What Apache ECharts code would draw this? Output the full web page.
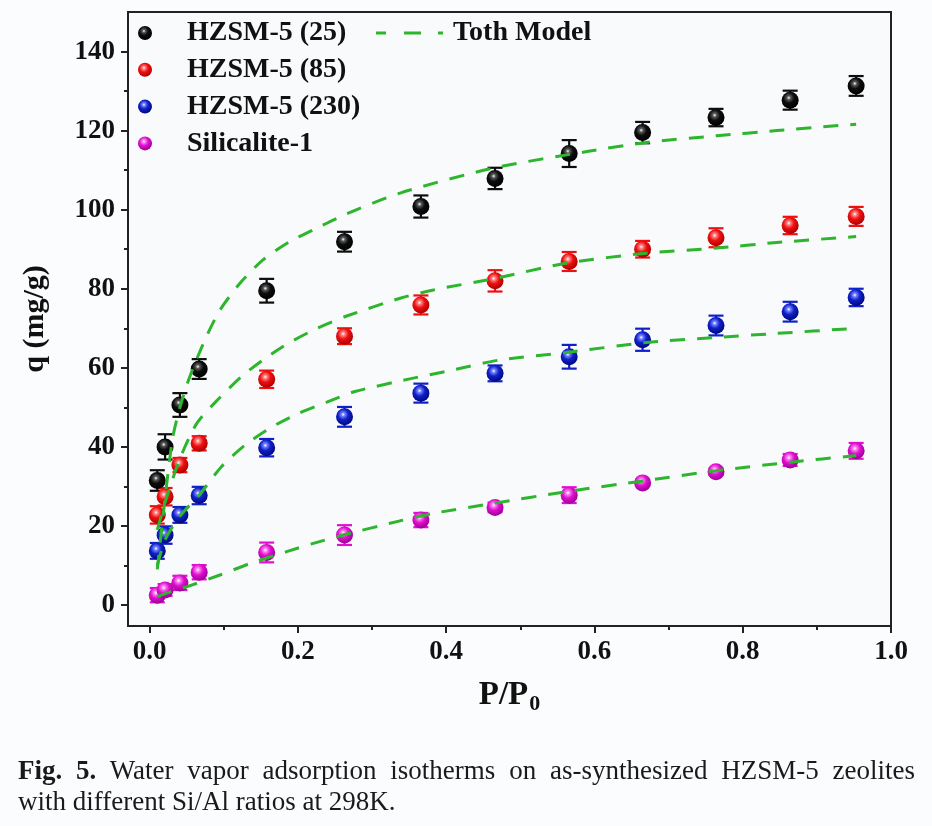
<!DOCTYPE html>
<html>
<head>
<meta charset="utf-8">
<script src="https://cdn.jsdelivr.net/npm/echarts@6/dist/echarts.min.js"></script>
<style>
  html, body { margin: 0; padding: 0; background: #fbfcfd; }
  #chart { position: absolute; left: 0; top: 0; width: 932px; height: 826px; }
  #caption { position: absolute; left: 18px; top: 755px; width: 897px;
    font-family: "Liberation Serif", "DejaVu Serif", serif; font-size: 27px; line-height: 31px;
    color: #1a1a1a; }
  #caption .l1 { text-align: justify; text-align-last: justify; white-space: nowrap; }
</style>
</head>
<body>
<div id="chart"></div>
<div id="caption"><div class="l1"><b>Fig. 5.</b> Water vapor adsorption isotherms on as-synthesized HZSM-5 zeolites</div><div>with different Si/Al ratios at 298K.</div></div>
<script>
// ---- data ----
const pressure = [0.0105, 0.021, 0.041, 0.067, 0.158, 0.263, 0.366, 0.466, 0.566, 0.665, 0.764, 0.864, 0.953];

const hzsm25 = [31.5, 40.0, 50.6, 59.7, 79.5, 91.9, 100.8, 107.9, 114.2, 119.5, 123.3, 127.7, 131.3];
const hzsm85 = [22.8, 27.4, 35.4, 40.9, 57.1, 68.0, 75.9, 82.0, 86.9, 90.0, 92.9, 96.0, 98.3];
const hzsm230 = [13.7, 17.7, 22.8, 27.7, 39.8, 47.6, 53.6, 58.6, 62.8, 67.1, 70.7, 74.2, 77.8];
const silicalite = [2.5, 3.8, 5.6, 8.3, 13.3, 17.7, 21.5, 24.7, 27.8, 30.9, 33.7, 36.7, 39.0];

const err25 = [2.6, 3.2, 3.0, 2.5, 3.0, 2.5, 2.8, 2.7, 3.4, 2.7, 2.2, 2.4, 2.5];
const err85 = [2.2, 2.2, 1.8, 1.8, 2.2, 2.0, 2.4, 2.7, 2.4, 2.1, 2.4, 2.2, 2.4];
const err230 = [2.0, 2.2, 2.0, 2.2, 2.2, 2.5, 2.4, 2.0, 3.0, 2.8, 2.5, 2.5, 2.2];
const errSil = [1.8, 1.5, 1.8, 1.8, 2.5, 2.5, 1.8, 1.2, 2.0, 0.8, 0.8, 1.5, 2.0];

const fit25X = [0.0105, 0.021, 0.031, 0.041, 0.05, 0.061, 0.077, 0.095, 0.122, 0.153, 0.189, 0.221, 0.263, 0.338, 0.463, 0.59, 0.67, 0.765, 0.846, 0.931, 0.953];
const fit25Y = [9, 27, 42, 50, 55.5, 61, 68, 74.6, 81.4, 87.3, 91.9, 94.9, 98.7, 104.2, 110.5, 114.7, 117.0, 118.7, 120.0, 121.3, 121.6];
const fit85X = [0.0105, 0.021, 0.041, 0.064, 0.094, 0.124, 0.156, 0.189, 0.226, 0.266, 0.338, 0.383, 0.468, 0.563, 0.67, 0.765, 0.846, 0.953];
const fit85Y = [19, 26, 37, 46, 52.3, 57.8, 62.4, 66.4, 70.0, 73.1, 77.6, 79.7, 82.7, 86.5, 89.0, 90.3, 91.7, 93.2];
const fit230X = [0.0105, 0.021, 0.041, 0.067, 0.097, 0.129, 0.163, 0.199, 0.239, 0.277, 0.351, 0.405, 0.473, 0.563, 0.67, 0.765, 0.846, 0.953];
const fit230Y = [10, 16.5, 22.5, 27.8, 35.0, 40.5, 44.8, 48.3, 51.3, 54.0, 57.2, 59.3, 62.0, 63.9, 66.4, 67.7, 68.7, 70.0];
const fitSilX = [0.0105, 0.021, 0.05, 0.095, 0.1355, 0.185, 0.221, 0.261, 0.338, 0.383, 0.463, 0.563, 0.67, 0.765, 0.868, 0.953];
const fitSilY = [2.1, 2.9, 4.6, 7.6, 10.5, 13.5, 15.6, 17.7, 21.3, 23.2, 25.7, 28.7, 31.5, 34.0, 36.2, 37.8];

const xTicks = [0, 0.2, 0.4, 0.6, 0.8, 1.0];
const xMinorTicks = [0.1, 0.3, 0.5, 0.7, 0.9];
const yTicks = [0, 20, 40, 60, 80, 100, 120, 140];
const yMinorTicks = [10, 30, 50, 70, 90, 110, 130];

const seriesNames = ['HZSM-5 (25)', 'HZSM-5 (85)', 'HZSM-5 (230)', 'Silicalite-1'];
const fitName = 'Toth Model';

// ---- styling ----
const FONT = '"Liberation Serif", "Times New Roman", serif';
const colors = [
  { base: '#0d0d0d', light: '#5a5a5a', dark: '#000000' },
  { base: '#ee1010', light: '#ff8080', dark: '#b00000' },
  { base: '#1020c8', light: '#7080ff', dark: '#000a80' },
  { base: '#e010d0', light: '#ff80f0', dark: '#a0009a' }
];
const fitColor = '#2db52d';

function sphere(c) {
  return {
    type: 'radial', x: 0.42, y: 0.36, r: 0.62,
    colorStops: [
      { offset: 0, color: '#ffffff' },
      { offset: 0.18, color: c.light },
      { offset: 0.5, color: c.base },
      { offset: 1, color: c.dark }
    ]
  };
}

const dataSets = [hzsm25, hzsm85, hzsm230, silicalite];
const errSets = [err25, err85, err230, errSil];
const fits = [[fit25X, fit25Y], [fit85X, fit85Y], [fit230X, fit230Y], [fitSilX, fitSilY]];

const series = [];
dataSets.forEach((ys, i) => {
  const c = colors[i].base;
  series.push({
    type: 'custom',
    id: 'err' + i,
    z: 2,
    silent: true,
    data: pressure.map((x, k) => [x, ys[k] - errSets[i][k], ys[k] + errSets[i][k]]),
    encode: { x: 0, y: [1, 2] },
    renderItem: function (params, api) {
      const x = api.value(0);
      const lo = api.coord([x, api.value(1)]);
      const hi = api.coord([x, api.value(2)]);
      const w = 7.5;
      const st = { stroke: c, lineWidth: 2.2 };
      return {
        type: 'group',
        children: [
          { type: 'line', shape: { x1: lo[0], y1: lo[1], x2: hi[0], y2: hi[1] }, style: st },
          { type: 'line', shape: { x1: lo[0] - w, y1: lo[1], x2: lo[0] + w, y2: lo[1] }, style: st },
          { type: 'line', shape: { x1: hi[0] - w, y1: hi[1], x2: hi[0] + w, y2: hi[1] }, style: st }
        ]
      };
    }
  });
  series.push({
    type: 'scatter',
    name: seriesNames[i],
    z: 3,
    symbol: 'circle',
    symbolSize: 17,
    itemStyle: { color: sphere(colors[i]), opacity: 1 },
    data: pressure.map((x, k) => [x, ys[k]])
  });
});
fits.forEach((f, i) => {
  series.push({
    type: 'line',
    name: fitName,
    z: 4,
    symbol: 'none',
    smooth: 0.25,
    lineStyle: { color: fitColor, width: 3, type: [15, 12] },
    itemStyle: { color: fitColor },
    data: f[0].map((x, k) => [x, f[1][k]])
  });
});

const legendText = { fontFamily: FONT, fontWeight: 'bold', fontSize: 28, color: '#111', lineHeight: 30 };
const dashIcon = 'path://M0,0h10v3h-10z M28,0h17v3h-17z M62,0h5v3h-5z';

const option = {
  backgroundColor: '#fbfcfd',
  animation: false,
  grid: { left: 128, right: 41, top: 12, bottom: 200, show: true, borderColor: '#222', borderWidth: 2, backgroundColor: '#f9fafc' },
  legend: [
    {
      data: seriesNames, orient: 'vertical', left: 138, top: 18, padding: 0, itemWidth: 14, itemHeight: 14, itemGap: 6.8,
      textStyle: Object.assign({ padding: [0, 0, 0, 30] }, legendText), selectedMode: false
    },
    {
      data: [{ name: fitName, icon: dashIcon }], left: 376, top: 18, padding: 0, itemWidth: 67, itemHeight: 3,
      itemStyle: { color: fitColor, borderWidth: 0 },
      textStyle: Object.assign({ padding: [0, 0, 0, 5] }, legendText), selectedMode: false
    }
  ],
  xAxis: [
    {
      type: 'value', min: -0.029, max: 1.0,
      name: 'P/P{sub|0}', nameLocation: 'middle', nameGap: 49,
      nameTextStyle: {
        fontFamily: FONT, fontWeight: 'bold', fontSize: 33, color: '#111',
        rich: { sub: { fontFamily: FONT, fontWeight: 'bold', fontSize: 22, color: '#111', padding: [18, 0, 0, 1] } }
      },
      axisLine: { onZero: false, lineStyle: { color: '#222', width: 2 } },
      axisTick: { customValues: xTicks, length: 7, lineStyle: { color: '#222', width: 2 } },
      axisLabel: { customValues: xTicks, formatter: v => v.toFixed(1), margin: 13, fontFamily: FONT, fontWeight: 'bold', fontSize: 27, color: '#111' },
      splitLine: { show: false }
    },
    {
      type: 'value', min: -0.029, max: 1.0, position: 'bottom',
      axisLine: { show: false, onZero: false },
      axisTick: { customValues: xMinorTicks, length: 4, lineStyle: { color: '#222', width: 2 } },
      axisLabel: { show: false },
      splitLine: { show: false }
    }
  ],
  yAxis: [
    {
      type: 'value', min: -5.3, max: 150,
      name: 'q (mg/g)', nameLocation: 'middle', nameGap: 78, nameRotate: 90,
      nameTextStyle: { fontFamily: FONT, fontWeight: 'bold', fontSize: 30, color: '#111' },
      axisLine: { onZero: false, lineStyle: { color: '#222', width: 2 } },
      axisTick: { customValues: yTicks, length: 7, lineStyle: { color: '#222', width: 2 } },
      axisLabel: { customValues: yTicks, margin: 13, fontFamily: FONT, fontWeight: 'bold', fontSize: 27, color: '#111' },
      splitLine: { show: false }
    },
    {
      type: 'value', min: -5.3, max: 150, position: 'left',
      axisLine: { show: false, onZero: false },
      axisTick: { customValues: yMinorTicks, length: 4, lineStyle: { color: '#222', width: 2 } },
      axisLabel: { show: false },
      splitLine: { show: false }
    }
  ],
  series: series
};

const chart = echarts.init(document.getElementById('chart'), null, { renderer: 'canvas' });
chart.setOption(option);
</script>
</body>
</html>
